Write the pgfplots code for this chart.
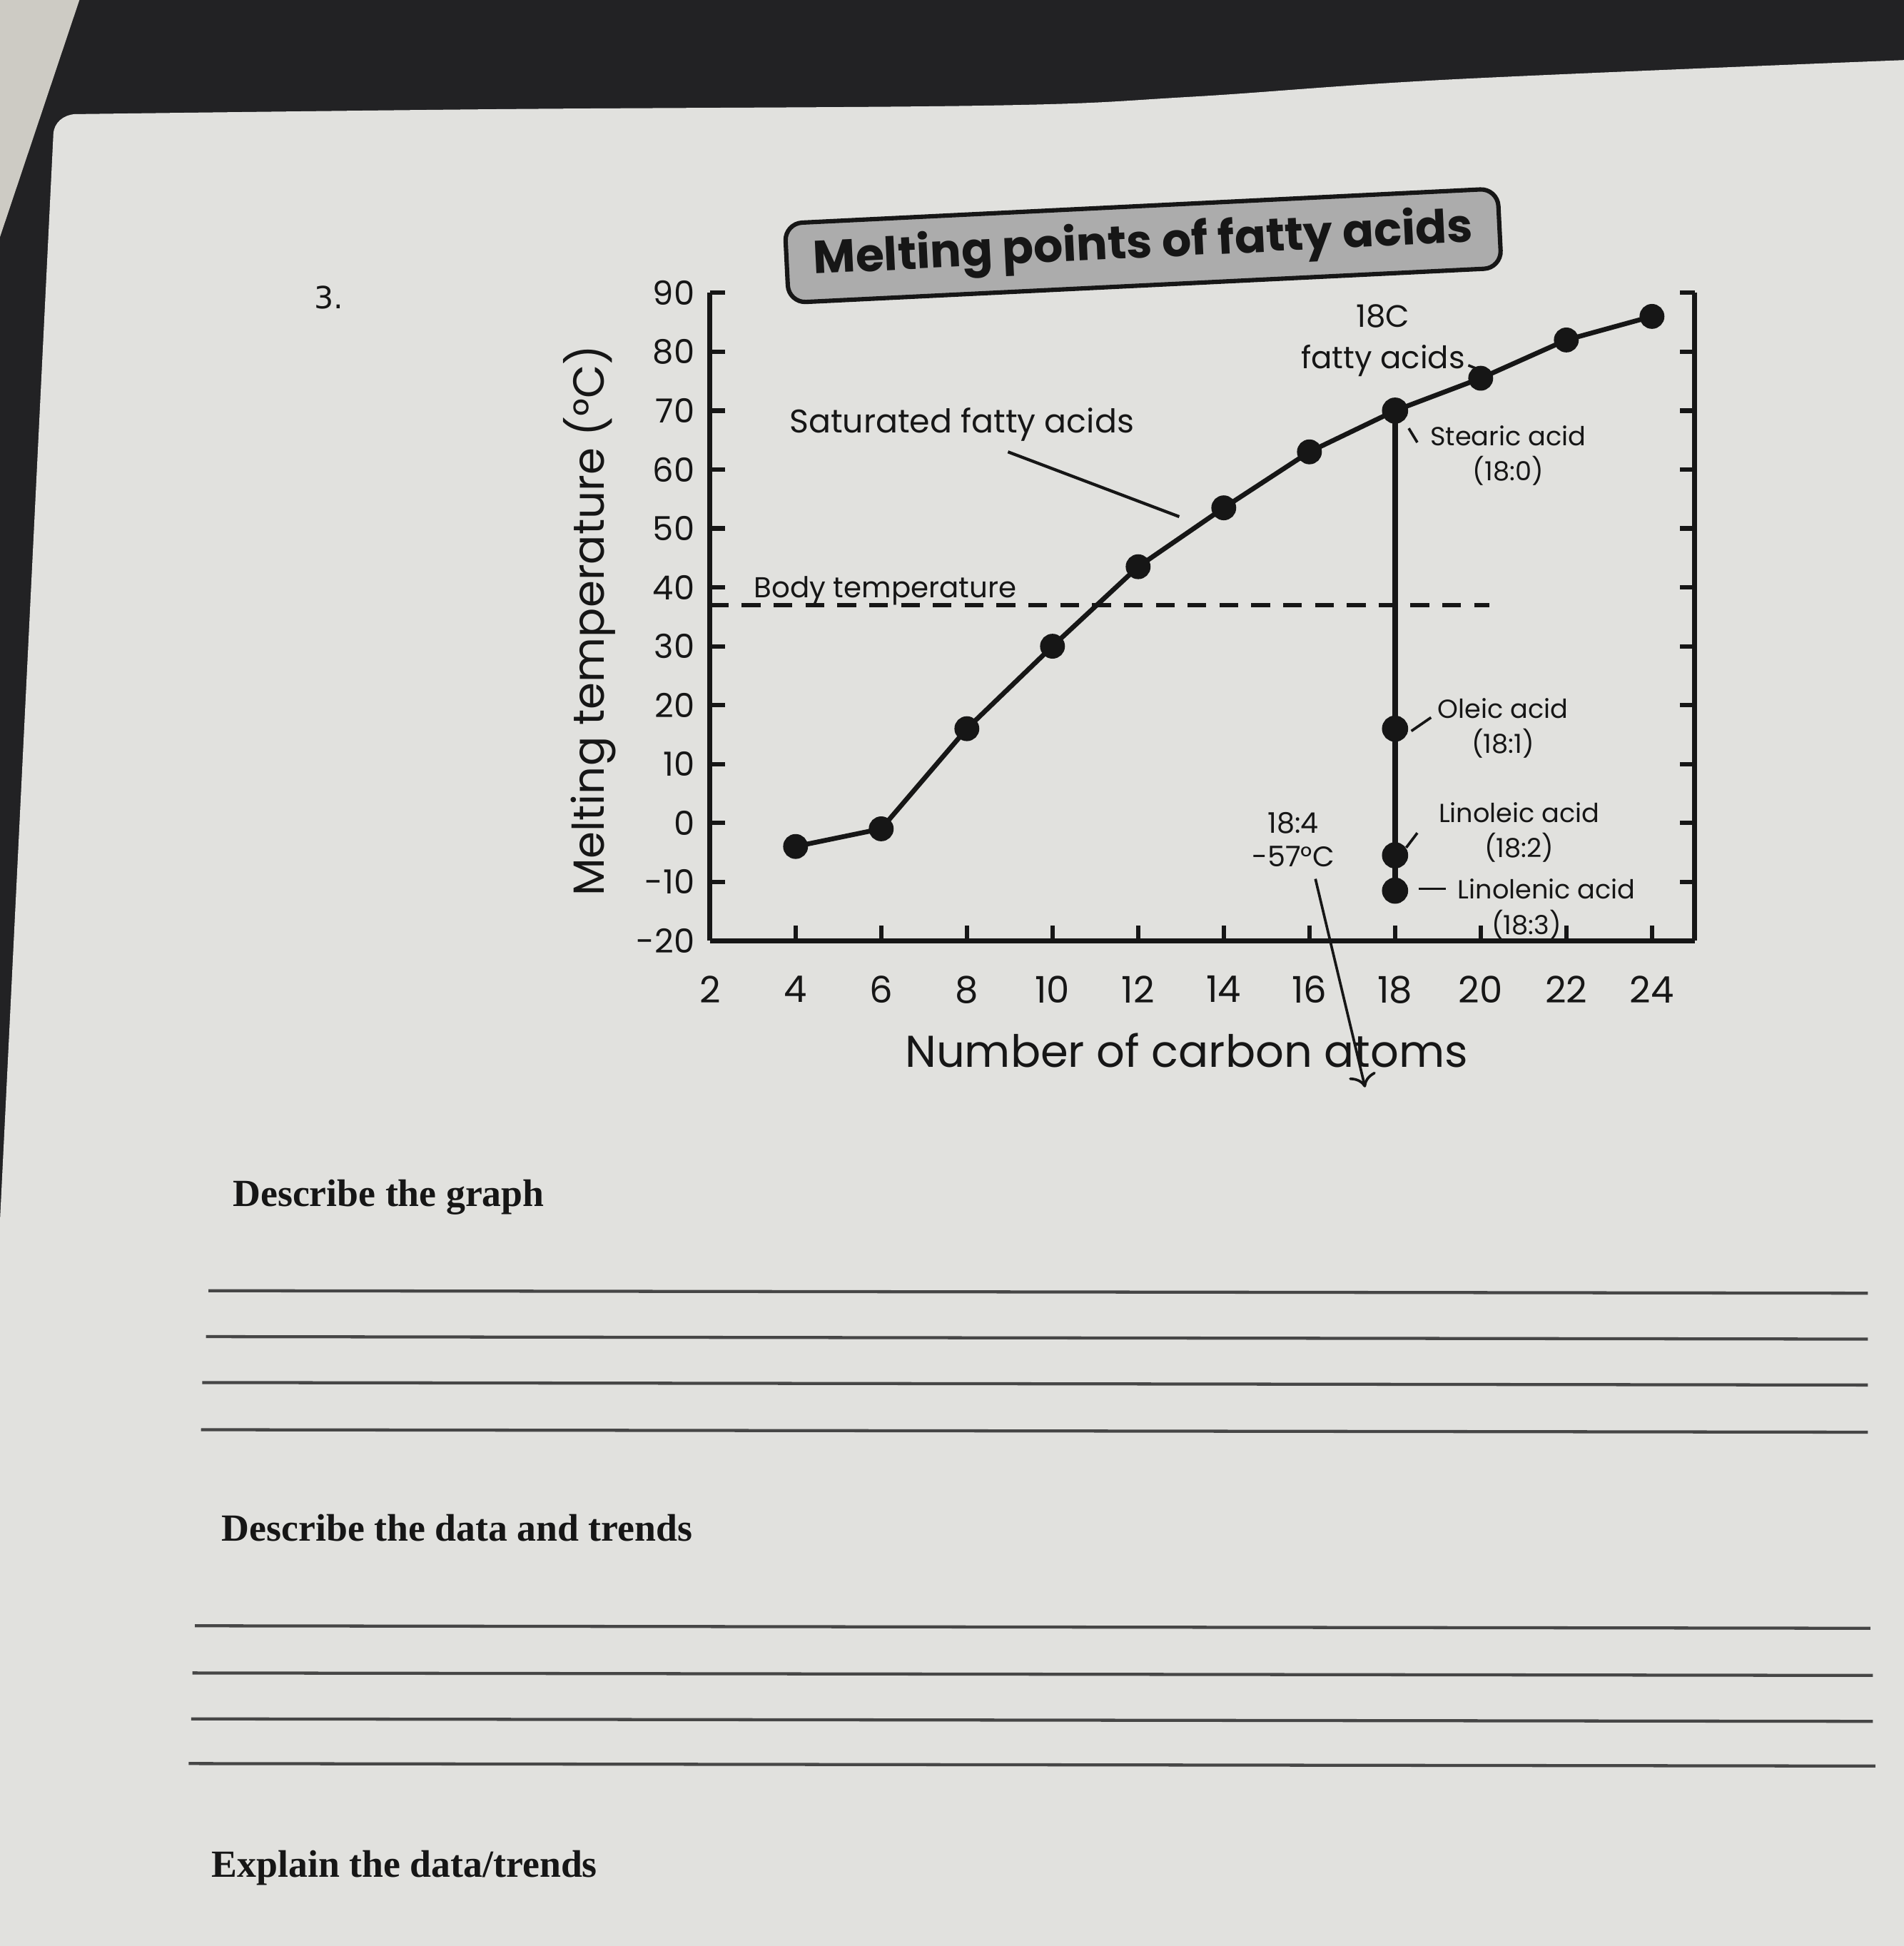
\documentclass[border=0pt]{standalone}
\usepackage{pgfplots}
\pgfplotsset{compat=1.18}
\usepackage{fontspec}
\setmainfont{Poppins}
\newfontfamily\wsserif{Liberation Serif}
\newfontfamily\wssans{DejaVu Sans}
\usetikzlibrary{arrows.meta}
\definecolor{desk}{RGB}{34,34,36}
\definecolor{paper}{RGB}{225,225,222}
\definecolor{paper2}{RGB}{205,203,196}
\definecolor{ink}{RGB}{22,22,22}
\definecolor{boxfill}{RGB}{172,172,172}
\definecolor{rule}{RGB}{70,70,70}
\begin{document}
\begin{tikzpicture}
\useasboundingbox (0,0) rectangle (15.34,15.68);
\clip (0,0) rectangle (15.34,15.68);
% photo background: desk, page beneath, worksheet page
\fill[desk] (0,0) rectangle (15.34,15.68);
\fill[paper2] (0,15.68) -- (0.64,15.68) -- (0,13.77) -- cycle;
\fill[paper] (-0.292,-0.1) -- (0.43,14.60) to[out=87,in=185] (0.60,14.76)
  -- plot[smooth, tension=0.6] coordinates {(0.60,14.76) (4.0,14.80) (8.0,14.83) (9.6,14.90) (11.7,15.04) (15.45,15.20)}
  -- (15.45,-0.1) -- cycle;
% worksheet text
\node[inner sep=0, text=ink, font=\wssans\fontsize{7}{8}\selectfont] at (2.65,13.28) {3.};
\node[anchor=west, inner sep=0, text=ink, font=\wsserif\bfseries\fontsize{8.8}{10}\selectfont] at (1.87,6.03) {Describe the graph};
\node[anchor=west, inner sep=0, text=ink, font=\wsserif\bfseries\fontsize{8.8}{10}\selectfont] at (1.78,3.37) {Describe the data and trends};
\node[anchor=west, inner sep=0, text=ink, font=\wsserif\bfseries\fontsize{8.8}{10}\selectfont] at (1.70,0.63) {Explain the data/trends};
\foreach \xa/\ya/\xb/\yb in {1.68/5.28/15.05/5.26, 1.66/4.91/15.05/4.89, 1.63/4.54/15.05/4.52, 1.62/4.16/15.05/4.14, 1.57/2.58/15.07/2.56, 1.55/2.20/15.09/2.18, 1.54/1.83/15.09/1.81, 1.52/1.47/15.11/1.45}
  \draw[rule, line width=0.7pt] (\xa,\ya) -- (\xb,\yb);
\begin{axis}[
  at={(5.72cm,8.10cm)}, anchor=south west,
  width=7.935cm, height=5.22cm, scale only axis,
  xmin=2, xmax=25, ymin=-20, ymax=90,
  axis x line=bottom, axis y line=box,
  axis line style={-, ink, line width=1.1pt},
  xtick={2,4,...,24}, ytick={-20,-10,...,90},
  tick align=inside, major tick length=0.12cm,
  yticklabel pos=left,
  tick style={ink, line width=1pt},
  yticklabel style={font=\fontsize{7.6}{9}\selectfont, text=ink},
  xticklabel style={font=\fontsize{8.4}{9}\selectfont, text=ink, yshift=-4.5pt},
  /pgf/number format/assume math mode=true,
  xlabel={Number of carbon atoms},
  ylabel={Melting temperature (°C)},
  xlabel style={at={(axis description cs:0.484,-0.169)}, anchor=center, font=\fontsize{10.2}{12}\selectfont, text=ink},
  ylabel style={at={(axis description cs:-0.122,0.494)}, anchor=center, font=\fontsize{10}{12}\selectfont, text=ink},
  clip=false,
]
\addplot[ink, line width=1pt, dash pattern=on 4.3pt off 3pt] coordinates {(2,37) (20.2,37)};
\addplot[ink, line width=1.1pt, mark=*, mark size=2.3pt, mark options={fill=ink, draw=ink, solid}] coordinates {(4,-4) (6,-1) (8,16) (10,30) (12,43.5) (14,53.5) (16,63) (18,70) (20,75.5) (22,82) (24,86)};
\addplot[ink, line width=1.4pt, mark=*, mark size=2.3pt, mark options={fill=ink, draw=ink, solid}] coordinates {(18,70) (18,16) (18,-5.5) (18,-11.5)};
% annotations
\node[text=ink, font=\fontsize{7.5}{8.5}\selectfont] at (axis cs:7.88,67.7) {Saturated fatty acids};
\draw[ink, line width=0.7pt] (axis cs:8.96,63.0) -- (axis cs:12.96,52.0);
\node[anchor=west, inner sep=0, text=ink, font=\fontsize{6.6}{8.5}\selectfont] at (axis cs:3.01,39.4) {Body temperature};
\node[align=center, text=ink, font=\fontsize{7.1}{9.4}\selectfont] at (axis cs:17.72,81.9) {18C\\fatty acids};
\draw[ink, line width=0.6pt] (axis cs:19.71,77.7) -- (axis cs:20.05,76.7);
\node[align=center, text=ink, font=\fontsize{6}{8}\selectfont] at (axis cs:20.64,62.35) {Stearic acid\\(18:0)};
\draw[ink, line width=0.6pt] (axis cs:18.32,67.0) -- (axis cs:18.52,64.6);
\node[align=center, text=ink, font=\fontsize{6}{8}\selectfont] at (axis cs:20.52,16.05) {Oleic acid\\(18:1)};
\draw[ink, line width=0.6pt] (axis cs:18.38,15.6) -- (axis cs:18.84,17.9);
\node[align=center, text=ink, font=\fontsize{6}{8}\selectfont] at (axis cs:20.9,-1.65) {Linoleic acid\\(18:2)};
\draw[ink, line width=0.6pt] (axis cs:18.26,-4.2) -- (axis cs:18.52,-1.7);
\node[text=ink, font=\fontsize{6}{8}\selectfont] at (axis cs:21.54,-11.2) {Linolenic acid};
\node[text=ink, font=\fontsize{6}{8}\selectfont] at (axis cs:21.07,-17.3) {(18:3)};
\draw[ink, line width=0.6pt] (axis cs:18.55,-11.2) -- (axis cs:19.19,-11.2);
\node[align=center, text=ink, font=\fontsize{6.5}{7.7}\selectfont] at (axis cs:15.62,-2.85) {18:4\\-57°C};
\draw[ink, line width=0.6pt, -{To[length=3pt]}] (axis cs:16.14,-9.5) -- (axis cs:17.30,-44.9);
\end{axis}
\node[draw=ink, line width=1pt, fill=boxfill, rounded corners=0.14cm, rotate=2.8, minimum width=5.75cm, minimum height=0.64cm, inner sep=0, text=ink, font=\bfseries\fontsize{10.6}{12}\selectfont] at (9.21,13.70) {Melting points of fatty acids};
\end{tikzpicture}
\end{document}
